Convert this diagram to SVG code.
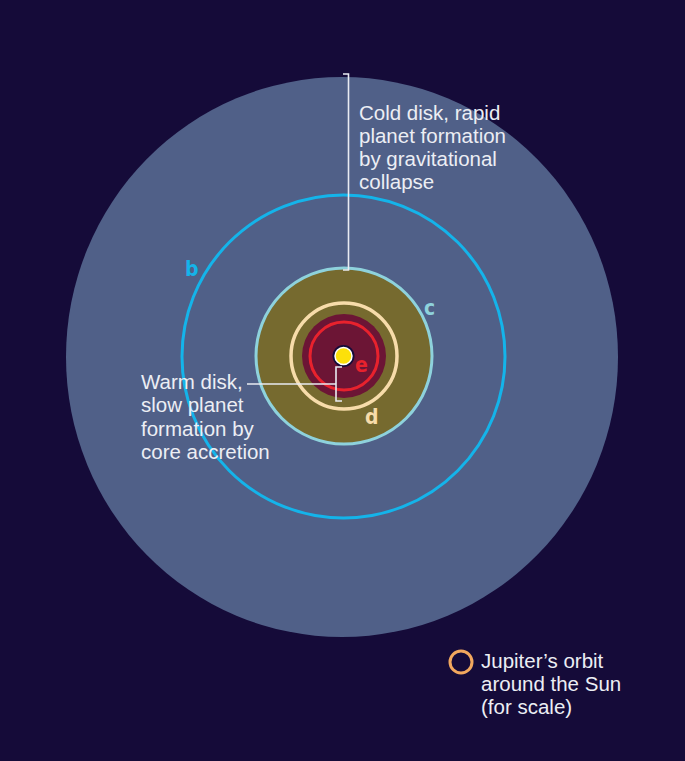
<svg xmlns="http://www.w3.org/2000/svg" width="685" height="761" viewBox="0 0 685 761">
<style>
.txt{font-family:"Liberation Sans",Arial,sans-serif;font-size:20.5px;fill:#eceef4;}
.lbl{font-family:"DejaVu Sans",sans-serif;font-stretch:condensed;font-weight:bold;font-size:21px;}
.ln{stroke:#e9ebf2;stroke-width:1.6;fill:none;}
</style>
<rect width="685" height="761" fill="#150b39"/>
<g id="cold-disk"><ellipse cx="342" cy="357" rx="276" ry="280" fill="#506088"/></g>
<g id="orbit-b"><circle cx="343.5" cy="356.5" r="161.5" fill="none" stroke="#14b4ea" stroke-width="3"/>
<text class="lbl" x="185" y="276" fill="#14b4ea">b</text></g>
<g id="warm-disk"><circle cx="344" cy="356" r="88" fill="#766a2f" stroke="#8ed2dc" stroke-width="3"/>
<text class="lbl" x="424" y="315" fill="#8ed2dc">c</text></g>
<g id="orbit-d"><circle cx="344" cy="356" r="53" fill="none" stroke="#f7dcaa" stroke-width="3.5"/>
<text class="lbl" x="365" y="424" fill="#f7dcaa">d</text></g>
<g id="inner-disk"><circle cx="344" cy="356" r="42" fill="#6c1535"/></g>
<g id="orbit-e"><circle cx="344" cy="356" r="34" fill="none" stroke="#e8222d" stroke-width="3"/>
<text class="lbl" x="355" y="372" fill="#e8222d">e</text></g>
<g id="star"><circle cx="343.5" cy="356" r="11" fill="#150b39"/><circle cx="343.5" cy="356" r="8.5" fill="#fce00a" stroke="#ffffff" stroke-width="1.5"/></g>
<g id="connectors">
<path class="ln" d="M343 74 H348.5 V270 H343"/>
<path class="ln" d="M247 384 H336"/>
<path class="ln" d="M342 367 H336 V401 H342"/>
</g>
<g id="label-cold">
<text class="txt" x="359" y="120">Cold disk, rapid</text>
<text class="txt" x="359" y="143">planet formation</text>
<text class="txt" x="359" y="166">by gravitational</text>
<text class="txt" x="359" y="189">collapse</text>
</g>
<g id="label-warm">
<text class="txt" x="141" y="389">Warm disk,</text>
<text class="txt" x="141" y="412">slow planet</text>
<text class="txt" x="141" y="436">formation by</text>
<text class="txt" x="141" y="459">core accretion</text>
</g>
<g id="legend">
<circle cx="461" cy="662" r="11" fill="none" stroke="#f2a85e" stroke-width="3"/>
<text class="txt" x="481" y="668">Jupiter’s orbit</text>
<text class="txt" x="481" y="691">around the Sun</text>
<text class="txt" x="481" y="714">(for scale)</text>
</g>
</svg>
